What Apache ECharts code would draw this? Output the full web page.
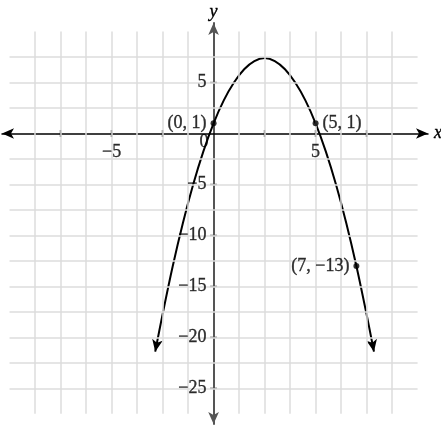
<!DOCTYPE html>
<html><head><meta charset="utf-8">
<script src="https://cdn.jsdelivr.net/npm/echarts@6/dist/echarts.min.js"></script>
<style>html,body{margin:0;padding:0;background:#fff}#c{width:441px;height:426px}</style>
</head><body><div id="c"></div>
<script>
// Curve points
const curveX = [-2.86, -2.5, -2, -1.5, -1, -0.5, 0, 0.5, 1, 1.5, 2, 2.5, 3, 3.5, 4, 4.5, 5, 5.5, 6, 6.5, 7, 7.5, 7.86];
const curveY = [-21.4, -17.75, -13, -8.75, -5, -1.75, 1, 3.25, 5, 6.3, 7.1, 7.4, 7.1, 6.3, 5, 3.25, 1, -1.75, -5, -8.75, -13, -17.75, -21.4];
// Labelled points
const pointX = [0, 5, 7];
const pointY = [1, 1, -13];
const pointLabels = ['(0, 1)', '(5, 1)', '(7, −13)'];
const pointLabelSide = ['left', 'right', 'left'];
// Grid lines
const gridXs = [-8.75, -7.5, -6.25, -5, -3.75, -2.5, -1.25, 1.25, 2.5, 3.75, 5, 6.25, 7.5, 8.75];
const gridYs = [7.5, 5, 2.5, -2.5, -5, -7.5, -10, -12.5, -15, -17.5, -20, -22.5, -25];
const gridXRange = [-10, 10];
const gridYRange = [-27.5, 10];
// Ticks and labels
const xTicks = [-7.5, -5, -2.5, 2.5, 5, 7.5];
const xTickLabels = [-5, 5];
const yTicks = [5, -5, -10, -15, -20, -25];
const yTickLabels = [5, -5, -10, -15, -20, -25];

const FONT = "'Liberation Serif', 'Times New Roman', serif";
const FS = 18;
const fmt = v => String(v).replace('-', '\u2212');

const curveData = curveX.map((x, i) => [x, curveY[i]]);
curveData[0] = {value: curveData[0], symbol: 'arrow', symbolSize: [8, 12], symbolRotate: 169.3};
curveData[curveData.length - 1] = {value: curveData[curveData.length - 1], symbol: 'arrow', symbolSize: [8, 12], symbolRotate: 190.7};

const gridLines = [];
gridXs.forEach(x => gridLines.push([{coord: [x, gridYRange[0]]}, {coord: [x, gridYRange[1]]}]));
gridYs.forEach(y => gridLines.push([{coord: [gridXRange[0], y]}, {coord: [gridXRange[1], y]}]));

const textStyle = {fontFamily: FONT, fontSize: FS, color: '#000', textBorderColor: '#000', textBorderWidth: 0.35};

const chart = echarts.init(document.getElementById('c'));
chart.setOption({
  animation: false,
  grid: {left: 2, right: 13, top: 23, bottom: 2, containLabel: false, outerBoundsMode: 'none'},
  xAxis: {
    type: 'value', min: -10.37, max: 10.51,
    name: 'x', nameLocation: 'end', nameGap: 6,
    nameTextStyle: {fontFamily: FONT, fontStyle: 'italic', fontSize: FS, color: '#000', verticalAlign: 'middle', textBorderColor: '#000', textBorderWidth: 0.35},
    axisLine: {onZero: true, symbol: ['arrow', 'arrow'], symbolSize: [8, 12], lineStyle: {color: '#000', width: 1.5}},
    axisTick: {show: false},
    splitLine: {show: false},
    axisLabel: {show: false}
  },
  yAxis: {
    type: 'value', min: -28.5, max: 10.84,
    name: 'y', nameLocation: 'end', nameGap: 2,
    nameTextStyle: {fontFamily: FONT, fontStyle: 'italic', fontSize: FS, color: '#000', textBorderColor: '#000', textBorderWidth: 0.35},
    axisLine: {onZero: true, symbol: ['arrow', 'arrow'], symbolSize: [8, 12], lineStyle: {color: '#555', width: 2}},
    axisTick: {show: false},
    splitLine: {show: false},
    axisLabel: {show: false}
  },
  series: [
    {
      type: 'line', data: [], silent: true, z: 0,
      markLine: {silent: true, symbol: 'none', label: {show: false}, animation: false,
        lineStyle: {color: '#dddddd', width: 1.5, type: 'solid'}, data: gridLines}
    },
    {
      type: 'scatter', silent: true, z: 3,
      data: xTicks.map(x => [x, 0]), symbol: 'rect', symbolSize: [1.5, 7], itemStyle: {color: '#000'}
    },
    {
      type: 'scatter', silent: true, z: 3,
      data: yTicks.map(y => [0, y]), symbol: 'rect', symbolSize: [7, 1.5], itemStyle: {color: '#555'}
    },
    {
      type: 'scatter', silent: true, z: 6,
      data: xTickLabels.map(x => [x, 0]), symbolSize: 0.1, itemStyle: {color: '#000'},
      label: Object.assign({show: true, position: 'bottom', distance: 10, formatter: p => fmt(p.value[0])}, textStyle)
    },
    {
      type: 'scatter', silent: true, z: 6,
      data: yTickLabels.map(y => [0, y]), symbolSize: 0.1, itemStyle: {color: '#000'},
      label: Object.assign({show: true, position: 'left', distance: 7, formatter: p => fmt(p.value[1])}, textStyle)
    },
    {
      type: 'scatter', silent: true, z: 1,
      data: [[0, 0]], symbolSize: 0.1, itemStyle: {color: '#000'},
      label: Object.assign({show: true, formatter: '0', position: 'inside', offset: [-9.5, 9]}, textStyle)
    },
    {
      type: 'line', data: curveData, z: 4, silent: true,
      symbol: 'none', showSymbol: true, smooth: 0.3,
      lineStyle: {color: '#000', width: 2}, itemStyle: {color: '#000'}
    },
    {
      type: 'scatter', z: 5, silent: true,
      data: pointX.map((x, i) => ({
        value: [x, pointY[i]],
        label: {position: pointLabelSide[i], formatter: pointLabels[i]}
      })),
      symbolSize: 6, itemStyle: {color: '#000'},
      label: Object.assign({show: true, distance: 4}, textStyle)
    }
  ]
});
</script></body></html>
